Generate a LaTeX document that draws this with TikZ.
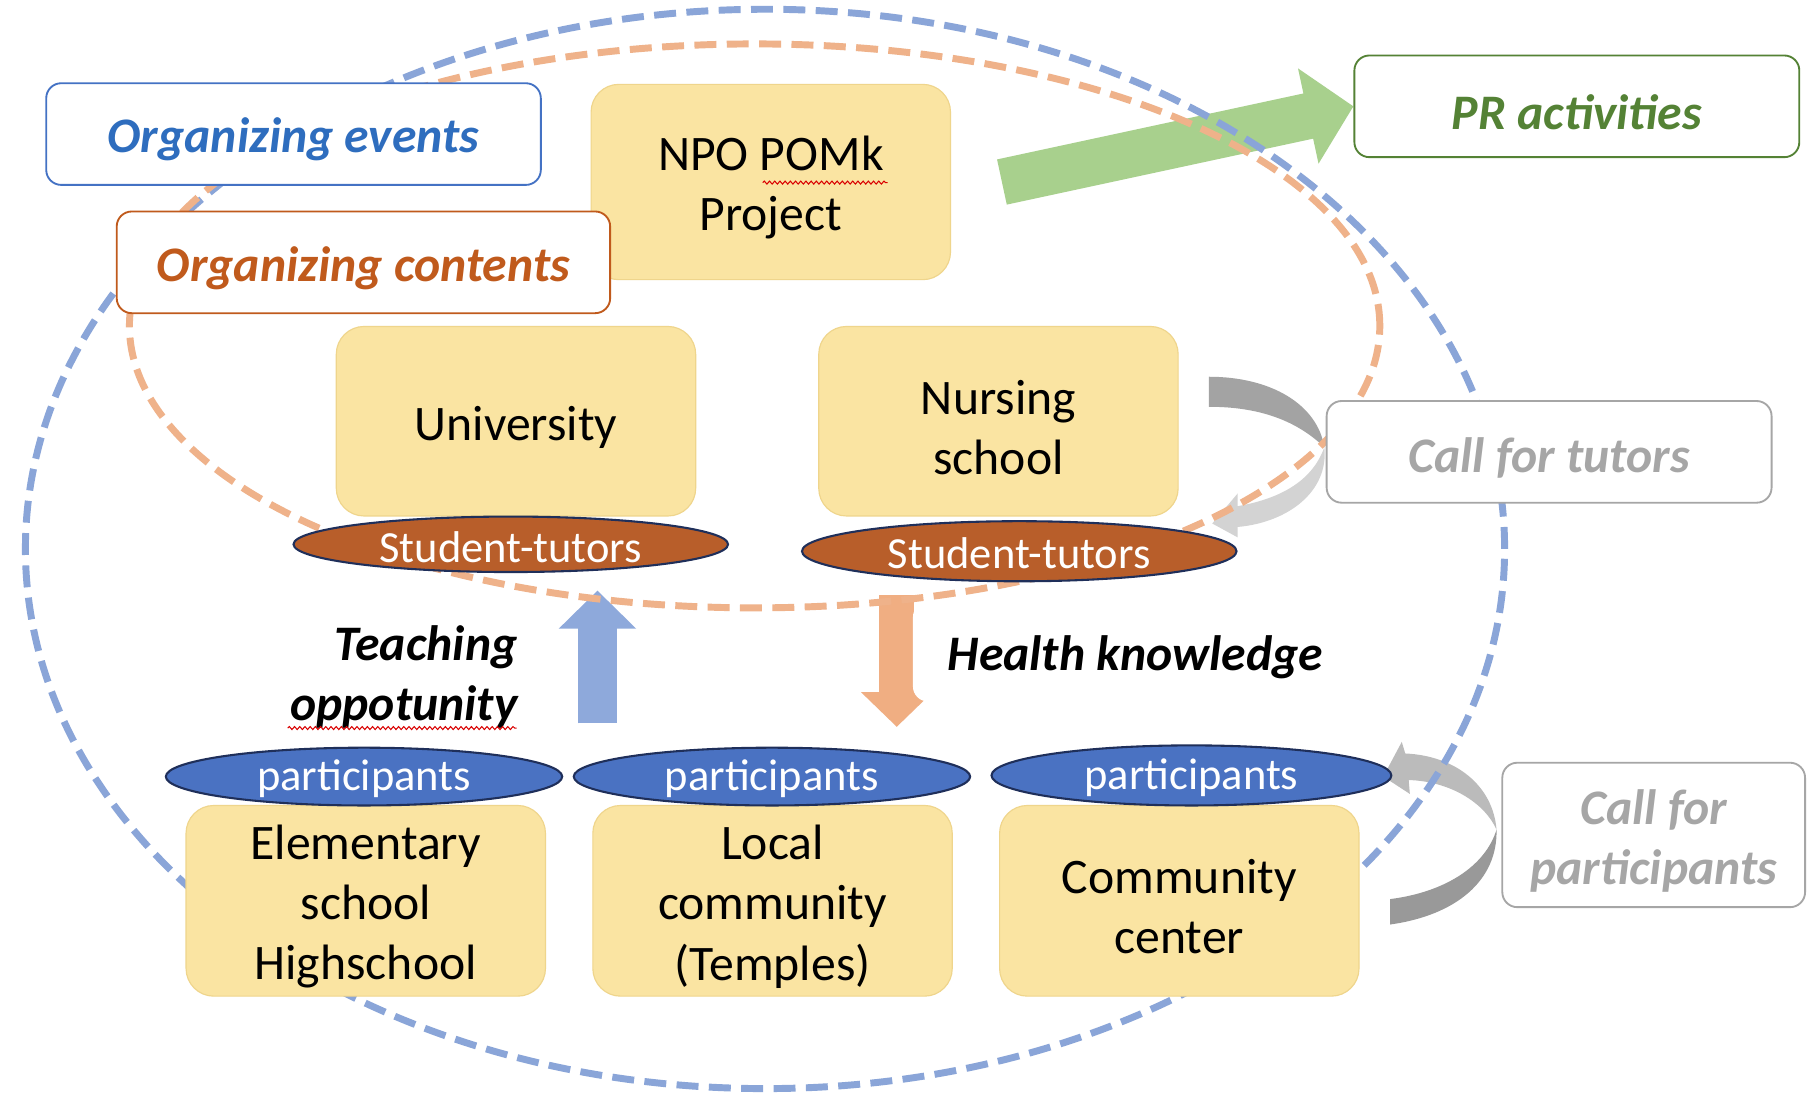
\documentclass[tikz,border=0pt]{standalone}
\usepackage{fontspec}
\setmainfont{Carlito}
\usetikzlibrary{arrows.meta,decorations.pathmorphing,shapes.geometric}
\definecolor{boxfill}{HTML}{FAE4A2}
\definecolor{boxedge}{HTML}{EFD58C}
\definecolor{bluedashc}{HTML}{8AA5D8}
\definecolor{orangedashc}{HTML}{EFB28A}
\definecolor{evblue}{HTML}{2E6DBE}
\definecolor{evborder}{HTML}{4472C4}
\definecolor{contorange}{HTML}{C05A1C}
\definecolor{prgreen}{HTML}{548235}
\definecolor{greenarr}{HTML}{A8D08D}
\definecolor{callgray}{HTML}{A6A6A6}
\definecolor{tutorfill}{HTML}{B85E2A}
\definecolor{partfill}{HTML}{4A72C2}
\definecolor{navyedge}{HTML}{1F2F5A}
\definecolor{uparr}{HTML}{8EA9DB}
\definecolor{downarr}{HTML}{F0AE82}
\definecolor{graydark}{HTML}{A3A3A3}
\definecolor{graylight}{HTML}{D3D3D3}
\definecolor{graymid}{HTML}{BBBBBB}
\definecolor{graydeep}{HTML}{999999}
\newcommand\fsmain{\fontsize{43}{52}\selectfont}
\newcommand\fsell{\fontsize{38.5}{46}\selectfont}
\newcommand\tstrut{\rule{0pt}{40pt}}
\newcommand\estrut{\rule{0pt}{31pt}}
\pgfdeclarelayer{paperlayer}
\pgfdeclarelayer{arrowlayer}
\pgfdeclarelayer{dashlayer}
\pgfsetlayers{paperlayer,arrowlayer,dashlayer,main}
\tikzset{
  ybox/.style={draw=boxedge, line width=1pt, fill=boxfill, rounded corners=24pt, inner sep=0pt, align=center, font=\fsmain, minimum width=311pt, minimum height=164pt},
  wbox/.style={fill=white, line width=1.6pt, rounded corners=13pt, inner sep=0pt, align=center, font=\fsmain\bfseries\itshape, minimum height=88pt},
  tutors/.style={ellipse, draw=navyedge, line width=1.8pt, fill=tutorfill, inner sep=0pt, minimum width=376pt},
  parts/.style={ellipse, draw=navyedge, line width=1.8pt, fill=partfill, inner sep=0pt, minimum width=343pt, minimum height=50pt},
  elltext/.style={text=white, font=\fsell},
  dashblue/.style={draw=bluedashc, line width=6pt, dash pattern=on 19pt off 9pt},
  dashorange/.style={draw=orangedashc, line width=6pt, dash pattern=on 19pt off 9pt},
  squiggle/.style={draw=red!85!black, line width=0.9pt, decorate, decoration={snake, amplitude=1.3pt, segment length=4.5pt}},
  lbl/.style={font=\fsmain\bfseries\itshape, inner sep=0pt}
}
\begin{document}
\begin{tikzpicture}[x=1pt,y=-1pt]
\useasboundingbox (0,0) rectangle (1568,954);
\begin{pgfonlayer}{paperlayer}
\fill[white] (0,0) rectangle (1568,954);
\end{pgfonlayer}

% yellow boxes
\node[ybox, minimum height=169pt] (npo) at (667,157.5) {\tstrut NPO POMk\\Project};
\node[ybox] (uni) at (446.5,364.5) {\tstrut University};
\node[ybox] (nurs) at (864,364.5) {\tstrut Nursing\\school};
\node[ybox, minimum height=165pt] (elem) at (316.5,779.5) {\tstrut Elementary\\school\\Highschool};
\node[ybox, minimum height=165pt] (local) at (668.5,779.5) {\tstrut Local\\community\\(Temples)};
\node[ybox, minimum height=165pt] (comm) at (1020.5,779.5) {\tstrut Community\\center};

% ellipses
\node[tutors, minimum height=48pt, label={[elltext]center:\estrut Student-tutors}] (st1) at (442,471) {};
\node[tutors, minimum height=52pt, label={[elltext]center:\estrut Student-tutors}] (st2) at (882,477) {};
\node[parts, label={[elltext]center:\estrut participants}] (p1) at (315,672) {};
\node[parts, label={[elltext]center:\estrut participants}] (p2) at (668,672) {};
\node[parts, minimum width=346pt, minimum height=52pt, label={[elltext]center:\estrut participants}] (p3) at (1031,671) {};

% white label boxes
\node[wbox, draw=evborder, text=evblue, minimum width=428pt] (ev) at (254,116) {\tstrut Organizing events};
\node[wbox, draw=contorange, text=contorange, minimum width=427pt] (cont) at (314.5,227) {\tstrut Organizing contents};
\node[wbox, draw=prgreen, text=prgreen, minimum width=385pt] (pr) at (1364.5,92) {\tstrut PR activities};
\node[wbox, draw=callgray, text=callgray, minimum width=385pt] (ctut) at (1340.5,391) {\tstrut Call for tutors};
\node[wbox, draw=callgray, text=callgray, minimum width=262pt, minimum height=125pt] (cpart) at (1431,722.5) {\tstrut Call for\\participants};

% free labels
\node[lbl, align=right, anchor=east] (teach) at (448,580.5) {\tstrut Teaching\\oppotunity};
\node[lbl, fill=white, rounded corners=13pt, minimum width=385pt, minimum height=86pt] (health) at (982.5,564) {\tstrut Health knowledge};

% spell-check squiggles
\draw[squiggle] (660,158) -- (768,158);
\draw[squiggle] (249,630) -- (447,630);

% dashed ellipses
\begin{pgfonlayer}{dashlayer}
\draw[dashblue] (662,475) ellipse [x radius=640pt, y radius=467pt];
\draw[dashorange] (653,282) ellipse [x radius=541pt, y radius=244pt];
\end{pgfonlayer}

% arrows
\begin{pgfonlayer}{arrowlayer}
\draw[greenarr, line width=40pt, -{Triangle[length=40pt,width=82pt]}] ([xshift=44pt]npo.east) -- (pr.west);
\coordinate (upS) at (517,626);
\coordinate (upE) at (517,511);
\draw[uparr, line width=34pt, -{Triangle[length=33pt,width=65pt]}] (upS) -- (upE);
\coordinate (dnS) at (776,515);
\coordinate (dnE) at (776,629);
\draw[downarr, line width=30pt, -{Triangle[length=30pt,width=60pt]}] (dnS) -- (dnE);
% call for tutors curved arrow
\fill[graydark] (1046,326) .. controls (1100,326) and (1140,350) .. (1146,387)
  .. controls (1122,364) and (1090,352) .. (1046,352) -- cycle;
\fill[graylight] (1146,387) .. controls (1150,425) and (1115,452) .. (1071,456)
  -- (1071,465) -- (1049,453) -- (1071,427) -- (1071,438)
  .. controls (1105,432) and (1135,418) .. (1146,387) -- cycle;
% call for participants curved arrow
\fill[graydeep] (1203,800) .. controls (1260,792) and (1296,762) .. (1295,718)
  .. controls (1285,750) and (1250,772) .. (1203,778) -- cycle;
\fill[graymid] (1295,718) .. controls (1292,680) and (1260,654) .. (1216,652)
  -- (1213,642) -- (1197,672) -- (1220,687) -- (1219,675)
  .. controls (1255,676) and (1285,695) .. (1295,718) -- cycle;
\end{pgfonlayer}
\end{tikzpicture}
\end{document}
